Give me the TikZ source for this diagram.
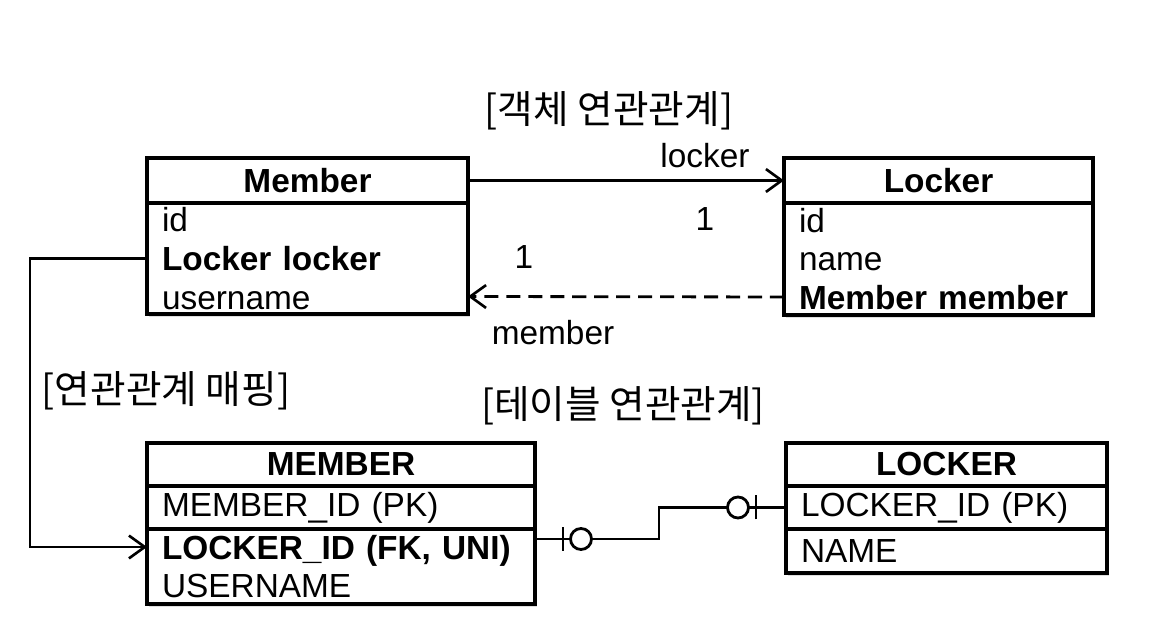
\documentclass[tikz,border=0pt]{standalone}
\usepackage{fontspec}
\setmainfont{Liberation Sans}
\newfontfamily\kr{Noto Sans CJK KR}
\usetikzlibrary{arrows.meta, positioning, shadows, calc}
\newcommand{\fsz}{\fontsize{19}{22}\selectfont}
\tikzset{
  box/.style={rectangle, draw=black, line width=1.9pt, fill=white, outer sep=0pt,
              drop shadow={shadow xshift=1.2pt, shadow yshift=-1.5pt, opacity=0.25}},
  head/.style={box, align=center, inner sep=0pt, font=\fsz\bfseries},
  rows/.style={box, align=left, inner xsep=0.3cm, inner ysep=0pt, font=\fsz},
  arrow/.style={-{Straight Barb[length=9pt, width=13pt, line width=1.5pt]}, line width=1.6pt},
  erline/.style={line width=1.6pt},
  lbl/.style={font=\fsz, inner sep=0pt},
  krlbl/.style={font=\fontsize{22}{26}\selectfont\kr, inner sep=0pt},
}

\begin{document}
\begin{tikzpicture}[node distance=0pt]
    \useasboundingbox (0,0) rectangle (23.02,12.56);

    % object model
    \node[head, anchor=north west, minimum width=6.42cm, minimum height=0.9cm] (mhead) at (2.94,9.40) {Member};
    \node[rows, below=of mhead, text width=5.82cm, minimum height=2.22cm] (mbody)
          {id\\\textbf{Locker locker}\\username};
    \node[head, anchor=north west, minimum width=6.18cm, minimum height=0.9cm] (lhead) at (15.68,9.40) {Locker};
    \node[rows, below=of lhead, text width=5.58cm, minimum height=2.24cm] (lbody)
          {id\\name\\\textbf{Member member}};

    % table model
    \node[head, anchor=north west, minimum width=7.76cm, minimum height=0.86cm] (thead) at (2.94,3.70) {MEMBER};
    \node[rows, below=of thead, text width=7.16cm, minimum height=0.86cm] (tpk) {MEMBER\_ID (PK)};
    \node[rows, below=of tpk, text width=7.16cm, minimum height=1.50cm] (trest)
          {\textbf{LOCKER\_ID (FK, UNI)}\\USERNAME};
    \node[head, anchor=north west, minimum width=6.42cm, minimum height=0.86cm] (khead) at (15.72,3.70) {LOCKER};
    \node[rows, below=of khead, text width=5.82cm, minimum height=0.86cm] (kpk) {LOCKER\_ID (PK)};
    \node[rows, below=of kpk, text width=5.82cm, minimum height=0.88cm] (kname) {NAME};

    % labels
    \node[krlbl] (objtitle) at (12.18,10.34) {[객체 연관관계]};
    \node[krlbl] (mapnote) at (3.32,4.74) {[연관관계 매핑]};
    \node[krlbl] (tbltitle) at (12.46,4.44) {[테이블 연관관계]};
    \node[lbl] (lref) at (14.10,9.44) {locker};
    \node[lbl] (lone) at (14.10,8.18) {1};
    \node[lbl] (mone) at (10.48,7.42) {1};
    \node[lbl] (mref) at (11.06,5.90) {member};

    % references
    \draw[arrow] (mhead.east) -- (lhead.west);
    \draw[arrow, dash pattern=on 8pt off 4.5pt] ([yshift=-0.76cm]lbody.west) -- ([yshift=-0.76cm]mbody.east);
    \draw[arrow] (mbody.west) -- ++(-2.34,0) |- ([yshift=0.39cm]trest.west);

    % foreign key
    \coordinate (fk) at ([yshift=0.55cm]trest.east);
    \draw[erline] (fk) -- ++(2.48,0) |- (kpk.west);
    \draw[erline] ([xshift=0.56cm,yshift=-0.24cm]fk) -- ++(0,0.48);
    \draw[erline, fill=white] ([xshift=0.92cm]fk) circle (0.21cm);
    \draw[erline] ([xshift=-0.6cm,yshift=-0.24cm]kpk.west) -- ++(0,0.48);
    \draw[erline, fill=white] ([xshift=-0.96cm]kpk.west) circle (0.21cm);
\end{tikzpicture}
\end{document}
